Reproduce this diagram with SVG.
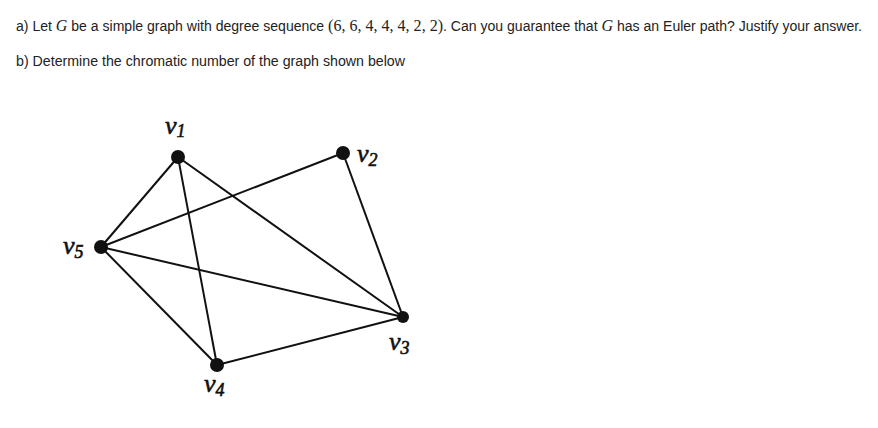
<svg xmlns="http://www.w3.org/2000/svg" width="878" height="428" viewBox="0 0 878 428">
<style>
.q{font-family:"Liberation Sans",Arial,sans-serif;font-size:14px;fill:#222}
.m{font-family:"Liberation Serif","Times New Roman",serif;font-size:16px}
.lbl{font-family:"Liberation Serif","Times New Roman",serif;font-style:italic;font-size:26px;fill:#111;stroke:#111;stroke-width:0.6}
.e{stroke:#111;stroke-width:2;fill:none}
.n{fill:#111}
</style>
<rect width="878" height="428" fill="#fff"/>
<text class="q" x="16" y="31" textLength="846" lengthAdjust="spacingAndGlyphs">a) Let <tspan class="m" font-style="italic">G</tspan> be a simple graph with degree sequence <tspan class="m">(6, 6, 4, 4, 4, 2, 2)</tspan>. Can you guarantee that <tspan class="m" font-style="italic">G</tspan> has an Euler path? Justify your answer.</text>
<text class="q" x="16" y="66" textLength="389" lengthAdjust="spacingAndGlyphs">b) Determine the chromatic number of the graph shown below</text>
<g id="edges">
<line class="e" x1="178" y1="157" x2="217" y2="365"/>
<line class="e" x1="178" y1="157" x2="101" y2="247"/>
<line class="e" x1="178" y1="157" x2="403" y2="317"/>
<line class="e" x1="343" y1="153" x2="101" y2="247"/>
<line class="e" x1="343" y1="153" x2="403" y2="317"/>
<line class="e" x1="101" y1="247" x2="403" y2="317"/>
<line class="e" x1="101" y1="247" x2="217" y2="365"/>
<line class="e" x1="217" y1="365" x2="403" y2="317"/>
</g>
<g id="v1"><circle class="n" cx="178" cy="157" r="7"/><text class="lbl" x="165" y="134">v<tspan font-size="18" dy="3">1</tspan></text></g>
<g id="v2"><circle class="n" cx="343" cy="153" r="7"/><text class="lbl" x="357" y="162">v<tspan font-size="18" dy="4">2</tspan></text></g>
<g id="v3"><circle class="n" cx="403" cy="317" r="6"/><text class="lbl" x="389" y="350">v<tspan font-size="18" dy="4">3</tspan></text></g>
<g id="v4"><circle class="n" cx="217" cy="365" r="7"/><text class="lbl" x="204" y="392">v<tspan font-size="18" dy="4">4</tspan></text></g>
<g id="v5"><circle class="n" cx="101" cy="247" r="7"/><text class="lbl" x="63" y="254">v<tspan font-size="18" dy="4">5</tspan></text></g>
</svg>
